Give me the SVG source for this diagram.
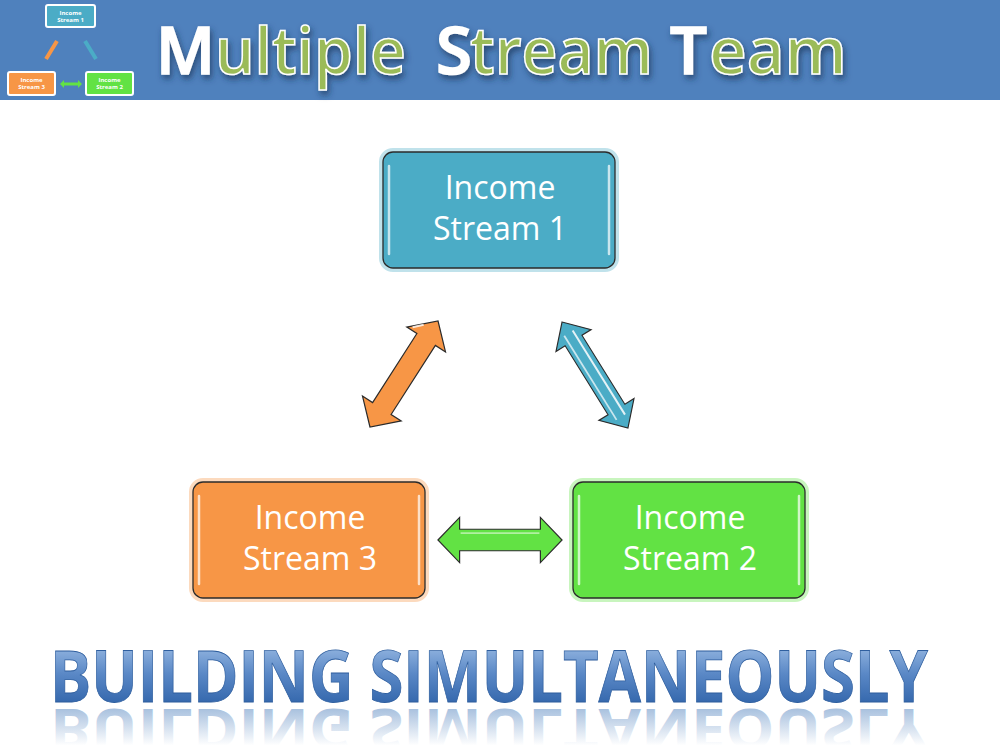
<svg xmlns="http://www.w3.org/2000/svg" width="1000" height="750" viewBox="0 0 1000 750">
<defs>
<style>
.nodeText{font-family:"Open Sans","Liberation Sans",sans-serif;font-size:32px;fill:#ffffff;text-anchor:middle}
.box{stroke:#2b2b2b;stroke-width:1.3}
.hl{stroke:#ffffff;stroke-width:2.5;stroke-linecap:round;opacity:0.7;fill:none}
.arrow{stroke:#2b2b2b;stroke-width:1.2;stroke-linejoin:miter}
.mini{stroke:#ffffff;stroke-width:2}
.miniText{font-family:"Open Sans","Liberation Sans",sans-serif;font-size:6px;fill:#ffffff;text-anchor:middle;font-weight:bold}
.title{font-family:"Open Sans","Liberation Sans",sans-serif;font-weight:600;font-size:66px;stroke:#ffffff;stroke-width:1.6}
.w{fill:#ffffff}
.g{fill:#9bbb59}
.banner{font-family:"Open Sans","Liberation Sans",sans-serif;font-weight:bold;font-size:72px}
</style>
<filter id="tshadow" x="-5%" y="-20%" width="110%" height="150%">
<feDropShadow dx="2" dy="4" stdDeviation="3" flood-color="#1d3557" flood-opacity="0.7"/>
</filter>
<linearGradient id="bgrad" x1="0" y1="650" x2="0" y2="703" gradientUnits="userSpaceOnUse">
<stop offset="0" stop-color="#8aaedc"/>
<stop offset="0.45" stop-color="#5a88c6"/>
<stop offset="1" stop-color="#3568ad"/>
</linearGradient>
<linearGradient id="rgrad" x1="0" y1="703" x2="0" y2="655" gradientUnits="userSpaceOnUse">
<stop offset="0" stop-color="#4f81bd" stop-opacity="0.5"/>
<stop offset="1" stop-color="#4f81bd" stop-opacity="0"/>
</linearGradient>
<path id="dbl126" d="M -63,0 L -41,-23 L -41,-11 L 41,-11 L 41,-23 L 63,0 L 41,23 L 41,11 L -41,11 L -41,23 Z"/>
</defs>

<!-- header -->
<rect x="0" y="0" width="1000" height="100" fill="#4f81bd"/>
<g id="title" filter="url(#tshadow)">
<text class="title w" x="156" y="74" textLength="59" lengthAdjust="spacingAndGlyphs">M</text>
<text class="title g" x="215" y="74" textLength="191" lengthAdjust="spacingAndGlyphs">ultiple</text>
<text class="title w" x="436" y="74" textLength="36" lengthAdjust="spacingAndGlyphs">S</text>
<text class="title g" x="470" y="74" textLength="183" lengthAdjust="spacingAndGlyphs">tream</text>
<text class="title w" x="670" y="74" textLength="37" lengthAdjust="spacingAndGlyphs">T</text>
<text class="title g" x="709" y="74" textLength="138" lengthAdjust="spacingAndGlyphs">eam</text>
</g>

<!-- thumbnail -->
<g id="thumbnail">
<rect class="mini" x="46" y="5" width="49" height="22" rx="2" fill="#4bacc6"/>
<text class="miniText" x="70.5" y="15">Income</text>
<text class="miniText" x="70.5" y="22">Stream 1</text>
<rect class="mini" x="8" y="72" width="47" height="23" rx="2" fill="#f79646"/>
<text class="miniText" x="31.5" y="82">Income</text>
<text class="miniText" x="31.5" y="89">Stream 3</text>
<rect class="mini" x="86" y="72" width="47" height="23" rx="2" fill="#62e244"/>
<text class="miniText" x="109.5" y="82">Income</text>
<text class="miniText" x="109.5" y="89">Stream 2</text>
<line x1="46" y1="59" x2="57" y2="41" stroke="#f79646" stroke-width="4"/>
<line x1="85" y1="41" x2="96" y2="59" stroke="#4bacc6" stroke-width="4"/>
<path d="M 60,84 L 64,80 L 64,82.5 L 78,82.5 L 78,80 L 82,84 L 78,88 L 78,85.5 L 64,85.5 L 64,88 Z" fill="#62e244"/>
</g>

<!-- connectors -->
<g id="connectors">
<g transform="translate(404,374) rotate(-57.3)">
<use href="#dbl126" class="arrow" fill="#f79646"/>
<path d="M 44,-18 L 52,-10" stroke="#ffffff" stroke-width="2" opacity="0.8"/>
</g>
<g transform="translate(595,375) rotate(58.1) scale(0.99,0.9)">
<use href="#dbl126" class="arrow" fill="#4bacc6"/>
<line x1="-50" y1="-5" x2="50" y2="-5" stroke="#ffffff" stroke-width="2.2" opacity="0.85"/>
<line x1="-50" y1="6" x2="50" y2="6" stroke="#ffffff" stroke-width="2" opacity="0.7"/>
</g>
<g transform="translate(500,540) scale(0.985,0.98)">
<use href="#dbl126" class="arrow" fill="#62e244"/>
<line x1="-40" y1="-7" x2="40" y2="-7" stroke="#ffffff" stroke-width="2" opacity="0.5"/>
</g>
</g>

<!-- nodes -->
<g id="node1">
<rect x="381" y="150" width="236" height="120" rx="12" fill="none" stroke="#4bacc6" stroke-width="4" opacity="0.35"/>
<rect x="383" y="152" width="232" height="116" rx="10" fill="#4bacc6" class="box"/>
<line class="hl" x1="389" y1="166" x2="389" y2="254"/>
<line class="hl" x1="609" y1="166" x2="609" y2="254"/>
<text class="nodeText" x="500" y="199">Income</text>
<text class="nodeText" x="500" y="240">Stream 1</text>
</g>
<g id="node3">
<rect x="191" y="480" width="236" height="120" rx="12" fill="none" stroke="#f79646" stroke-width="4" opacity="0.35"/>
<rect x="193" y="482" width="232" height="116" rx="10" fill="#f79646" class="box"/>
<line class="hl" x1="199" y1="496" x2="199" y2="584"/>
<line class="hl" x1="419" y1="496" x2="419" y2="584"/>
<text class="nodeText" x="310" y="529">Income</text>
<text class="nodeText" x="310" y="570">Stream 3</text>
</g>
<g id="node2">
<rect x="571" y="480" width="236" height="120" rx="12" fill="none" stroke="#62e244" stroke-width="4" opacity="0.35"/>
<rect x="573" y="482" width="232" height="116" rx="10" fill="#62e244" class="box"/>
<line class="hl" x1="579" y1="496" x2="579" y2="584"/>
<line class="hl" x1="799" y1="496" x2="799" y2="584"/>
<text class="nodeText" x="690" y="529">Income</text>
<text class="nodeText" x="690" y="570">Stream 2</text>
</g>

<!-- bottom banner -->
<g id="banner">
<text class="banner" x="50" y="702" textLength="878" lengthAdjust="spacingAndGlyphs" fill="url(#bgrad)" stroke="#2f5f9f" stroke-width="0.8">BUILDING SIMULTANEOUSLY</text>
<text class="banner" x="50" y="702" transform="translate(0,1256.5) scale(1,-0.78)" textLength="878" lengthAdjust="spacingAndGlyphs" fill="url(#rgrad)">BUILDING SIMULTANEOUSLY</text>
</g>
</svg>
